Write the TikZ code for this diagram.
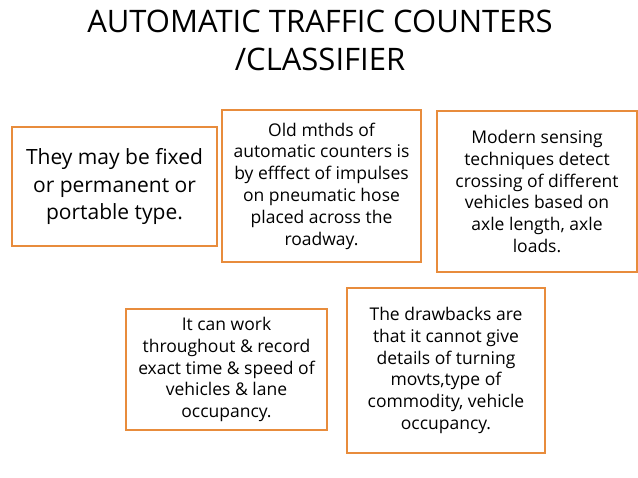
\documentclass[tikz,border=0pt]{standalone}
\usepackage{fontspec}
\setmainfont{Open Sans}
\definecolor{obord}{RGB}{232,140,60}
\begin{document}
\begin{tikzpicture}[x=1pt,y=-1pt,
 box/.style={draw=obord,line width=1.6pt,align=center,inner sep=0pt},
 ]
\useasboundingbox (0,0) rectangle (638,478);
\node[font=\fontsize{31}{38}\selectfont,align=center] (title) at (320,40) {AUTOMATIC TRAFFIC COUNTERS\\/CLASSIFIER};
\node[box,minimum width=205pt,minimum height=119pt,font=\fontsize{21}{27.5}\selectfont] (b1) at (114.5,186.5) {They may be fixed\\or permanent or\\portable type.};
\node[box,minimum width=199pt,minimum height=152pt,font=\fontsize{17.5}{21.8}\selectfont] (b2) at (321.5,186) {Old mthds of\\automatic counters is\\by efffect of impulses\\on pneumatic hose\\placed across the\\roadway.};
\node[box,minimum width=200pt,minimum height=161pt,font=\fontsize{17.5}{21.8}\selectfont] (b3) at (537,191.5) {Modern sensing\\techniques detect\\crossing of different\\vehicles based on\\axle length, axle\\loads.};
\node[box,minimum width=201pt,minimum height=121pt,font=\fontsize{17.5}{21.8}\selectfont] (b4) at (226.5,369.5) {It can work\\throughout \& record\\exact time \& speed of\\vehicles \& lane\\occupancy.};
\node[box,minimum width=198pt,minimum height=165pt,font=\fontsize{17.5}{21.8}\selectfont] (b5) at (446,370.5) {The drawbacks are\\that it cannot give\\details of turning\\movts,type of\\commodity, vehicle\\occupancy.};
\end{tikzpicture}
\end{document}
